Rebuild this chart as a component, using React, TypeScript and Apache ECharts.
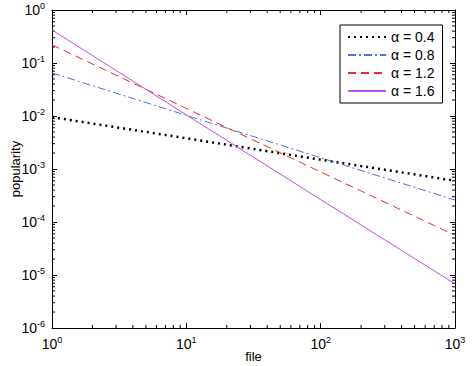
import React, { useEffect, useRef } from "react";
import * as echarts from "echarts";

const files = [1, 10, 100, 1000];
const pop04 = [0.0095, 0.0038, 0.0015, 0.0006];
const pop08 = [0.065, 0.0103, 0.00163, 0.00026];
const pop12 = [0.22, 0.0139, 0.00088, 0.000056];
const pop16 = [0.42, 0.0105, 0.000265, 0.0000068];
const seriesNames = ["α = 0.4", "α = 0.8", "α = 1.2", "α = 1.6"];

const X_MIN = 1, X_MAX = 1000, Y_MIN = 1e-6, Y_MAX = 1;

function minorValues(minExp: number, maxExp: number): number[] {
  const out: number[] = [];
  for (let e = minExp; e < maxExp; e++) {
    for (let m = 2; m <= 9; m++) out.push(m * Math.pow(10, e));
  }
  return out;
}
const xMinor = minorValues(0, 3);
const yMinor = minorValues(-6, 0);

const FONT = "Liberation Sans, Arial, sans-serif";

const supLabel = (v: number) => {
  const e = Math.round(Math.log10(v));
  return `{b|10}{s|${e}}`;
};
const rich = {
  b: { fontSize: 14, fontFamily: FONT, color: "#000" },
  s: { fontSize: 9, fontFamily: FONT, color: "#000", padding: [0, 0, 8, 0] },
};

export default function App() {
  const ref = useRef<HTMLDivElement>(null);
  useEffect(() => {
    if (!ref.current) return;
    const chart = echarts.init(ref.current, null, { renderer: "svg" });
    const mk = (vals: number[]) => files.map((f, i) => [f, vals[i]]);
    const axisLineStyle = { color: "#000", width: 1 };
    const option: any = {
      animation: false,
      backgroundColor: "#fff",
      grid: { left: 52, right: 19, top: 10, bottom: 38, containLabel: false, outerBoundsMode: "none" },
      legend: {
        data: seriesNames,
        orient: "vertical",
        left: 340,
        top: 25,
        itemWidth: 38,
        itemHeight: 14,
        itemGap: 4,
        padding: [5, 8, 5, 7],
        borderColor: "#000",
        borderWidth: 1,
        backgroundColor: "#fff",
        itemStyle: { opacity: 0, borderWidth: 0 },
        textStyle: { fontSize: 14, fontFamily: FONT, color: "#000" },
      },
      xAxis: [
        {
          type: "log", logBase: 10, min: X_MIN, max: X_MAX,
          name: "file", nameLocation: "middle", nameGap: 22, nameMoveOverlap: false,
          nameTextStyle: { fontSize: 13, fontFamily: FONT, color: "#000" },
          axisLine: { lineStyle: axisLineStyle },
          axisTick: { inside: true, length: 5, lineStyle: { color: "#000" } },
          axisLabel: { formatter: supLabel, rich, margin: 7 },
          splitLine: { show: false },
        },
        {
          type: "log", logBase: 10, min: X_MIN, max: X_MAX, position: "top",
          axisLine: { lineStyle: axisLineStyle },
          axisTick: { inside: true, length: 5, lineStyle: { color: "#000" } },
          axisLabel: { show: false },
          splitLine: { show: false },
        },
      ],
      yAxis: [
        {
          type: "log", logBase: 10, min: Y_MIN, max: Y_MAX, interval: 1,
          name: "popularity", nameLocation: "middle", nameGap: 30, nameMoveOverlap: false,
          nameTextStyle: { fontSize: 13, fontFamily: FONT, color: "#000" },
          axisLine: { lineStyle: axisLineStyle },
          axisTick: { inside: true, length: 5, lineStyle: { color: "#000" } },
          axisLabel: { formatter: supLabel, rich, margin: 7 },
          splitLine: { show: false },
        },
        {
          type: "log", logBase: 10, min: Y_MIN, max: Y_MAX, interval: 1, position: "right",
          axisLine: { lineStyle: axisLineStyle },
          axisTick: { inside: true, length: 5, lineStyle: { color: "#000" } },
          axisLabel: { show: false },
          splitLine: { show: false },
        },
      ],
      series: [
        {
          name: seriesNames[0], type: "line", data: mk(pop04), symbol: "none",
          lineStyle: { color: "#000", width: 2.5, type: [2, 4] },
          itemStyle: { color: "#000" },
        },
        {
          name: seriesNames[1], type: "line", data: mk(pop08), symbol: "none",
          lineStyle: { color: "#4d6fe6", width: 1, type: [8, 3, 2, 3] },
          itemStyle: { color: "#4d6fe6" },
        },
        {
          name: seriesNames[2], type: "line", data: mk(pop12), symbol: "none",
          lineStyle: { color: "#ee2a2a", width: 1, type: [8, 5] },
          itemStyle: { color: "#ee2a2a" },
        },
        {
          name: seriesNames[3], type: "line", data: mk(pop16), symbol: "none",
          lineStyle: { color: "#c24cf0", width: 1, type: "solid" },
          itemStyle: { color: "#c24cf0" },
        },
        {
          type: "custom", silent: true, clip: false,
          data: xMinor.map((v) => [v, Y_MIN]),
          renderItem: (params: any, api: any) => {
            const v = api.value(0);
            const b = api.coord([v, Y_MIN]);
            const t = api.coord([v, Y_MAX]);
            return {
              type: "group",
              children: [
                { type: "line", shape: { x1: b[0], y1: b[1], x2: b[0], y2: b[1] - 3 }, style: { stroke: "#000", lineWidth: 1 } },
                { type: "line", shape: { x1: t[0], y1: t[1], x2: t[0], y2: t[1] + 3 }, style: { stroke: "#000", lineWidth: 1 } },
              ],
            };
          },
        },
        {
          type: "custom", silent: true, clip: false,
          data: yMinor.map((v) => [X_MIN, v]),
          renderItem: (params: any, api: any) => {
            const v = api.value(1);
            const l = api.coord([X_MIN, v]);
            const r = api.coord([X_MAX, v]);
            return {
              type: "group",
              children: [
                { type: "line", shape: { x1: l[0], y1: l[1], x2: l[0] + 3, y2: l[1] }, style: { stroke: "#000", lineWidth: 1 } },
                { type: "line", shape: { x1: r[0], y1: r[1], x2: r[0] - 3, y2: r[1] }, style: { stroke: "#000", lineWidth: 1 } },
              ],
            };
          },
        },
      ],
    };
    chart.setOption(option);
    return () => chart.dispose();
  }, []);
  return <div ref={ref} style={{ width: 474, height: 366, position: "absolute", left: 0, top: 0 }} />;
}
